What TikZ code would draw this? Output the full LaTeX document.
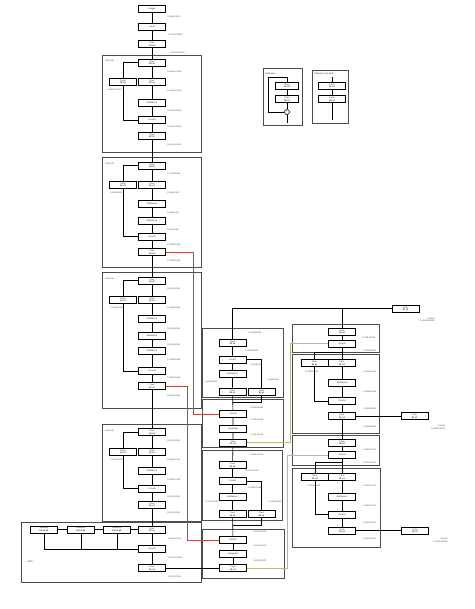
\documentclass[tikz,border=0pt]{standalone}
\usepackage{fontspec}
\setmainfont{Liberation Sans}
\usepackage{tikz}
\usetikzlibrary{calc}
\definecolor{skipred}{RGB}{170,75,65}
\definecolor{latolive}{RGB}{185,185,135}
\def\tinyfont{\fontsize{2.2}{2.5}\selectfont}
\def\netnode{\node[netbox]}
\def\dimlbl{\node[dimlbl]}
\def\drawframe{\draw[blockframe]}
\def\drawred{\draw[color=skipred, line width=0.6pt]}
\def\drawolive{\draw[color=latolive, line width=0.6pt]}
\def\op#1#2{#1\\\textbf{#2}}

\begin{document}
\begin{tikzpicture}[x=1pt,y=-1pt,
  netbox/.style={draw=black, fill=white, line width=0.8pt, minimum width=27pt, minimum height=7pt, inner sep=0pt, align=center, font=\tinyfont, text=black!85},
  blockframe/.style={draw=black!70, line width=0.7pt},
  dimlbl/.style={font=\tinyfont, text=black!65, anchor=west, inner sep=0pt, align=left},
  blocktitle/.style={font=\tinyfont, text=black!80, anchor=west, inner sep=0pt},
  every path/.style={line width=0.6pt}]
\useasboundingbox[fill=white] (0,0) rectangle (474,609);

% Stem
\netnode (in) at (152,8.5) {images};
\netnode (stem_a) at (152,26.5) {Focus};
\netnode (stem_b) at (152,44) {\op{Conv}{k3 s1}};
\dimlbl at (167,17) {1x3x640x640};
\dimlbl at (168,35) {1x12x320x320};
\dimlbl at (170,53) {1x32x320x320};

% Backbone block 1
\drawframe (102,55) rectangle (201,152);
\node[blocktitle] (c1_title) at (105,61) {C3 (n=1)};
\netnode (c1_top) at (152,62.5) {\op{Conv}{k3 s2}};
\netnode (c1_l) at (123,81.5) {\op{Conv}{k1 s1}};
\netnode (c1_r) at (152,81.5) {\op{Conv}{k1 s1}};
\netnode (c1_m1) at (152,102.5) {Bottleneck};
\netnode (c1_cat) at (152,120) {Concat};
\netnode (c1_out) at (152,135.5) {\op{Conv}{k1 s1}};
\draw (c1_top.west) -| (c1_l);
\draw (c1_l) |- (c1_cat.west);
\dimlbl at (167,72) {1x64x160x160};
\dimlbl at (107,90) {1x32x160x160};
\dimlbl at (167,91) {1x32x160x160};
\dimlbl at (167,111) {1x32x160x160};
\dimlbl at (167,127) {1x64x160x160};
\dimlbl at (167,145) {1x64x160x160};

% Backbone block 2
\drawframe (102,157) rectangle (201,267);
\node[blocktitle] (c2_title) at (105,164) {C3 (n=2)};
\netnode (c2_top) at (152,165.5) {\op{Conv}{k3 s2}};
\netnode (c2_l) at (123,184.5) {\op{Conv}{k1 s1}};
\netnode (c2_r) at (152,184.5) {\op{Conv}{k1 s1}};
\netnode (c2_m1) at (152,204) {Bottleneck};
\netnode (c2_m2) at (152,221) {Bottleneck};
\netnode (c2_cat) at (152,236.5) {Concat};
\netnode (c2_out) at (152,252) {\op{Conv}{k1 s1}};
\draw (c2_top.west) -| (c2_l);
\draw (c2_l) |- (c2_cat.west);
\dimlbl at (167,174) {1x128x80x80};
\dimlbl at (110,193) {1x64x80x80};
\dimlbl at (167,193) {1x64x80x80};
\dimlbl at (167,213) {1x64x80x80};
\dimlbl at (167,230) {1x64x80x80};
\dimlbl at (167,245) {1x128x80x80};
\dimlbl at (167,261) {1x128x80x80};

% Backbone block 3
\drawframe (102,272) rectangle (201,408);
\node[blocktitle] (c3_title) at (105,279) {C3 (n=3)};
\netnode (c3_top) at (152,280.5) {\op{Conv}{k3 s2}};
\netnode (c3_l) at (123,299.5) {\op{Conv}{k1 s1}};
\netnode (c3_r) at (152,299.5) {\op{Conv}{k1 s1}};
\netnode (c3_m1) at (152,319) {Bottleneck};
\netnode (c3_m2) at (152,336) {Bottleneck};
\netnode (c3_m3) at (152,351) {Bottleneck};
\netnode (c3_cat) at (152,371) {Concat};
\netnode (c3_out) at (152,386) {\op{Conv}{k1 s1}};
\draw (c3_top.west) -| (c3_l);
\draw (c3_l) |- (c3_cat.west);
\dimlbl at (167,289) {1x256x40x40};
\dimlbl at (110,308) {1x128x40x40};
\dimlbl at (167,308) {1x128x40x40};
\dimlbl at (167,329) {1x128x40x40};
\dimlbl at (167,345) {1x128x40x40};
\dimlbl at (167,360) {1x128x40x40};
\dimlbl at (167,378) {1x256x40x40};
\dimlbl at (167,396) {1x256x40x40};

% Backbone block 4
\drawframe (102,424) rectangle (201,521);
\node[blocktitle] (c4_title) at (105,431) {C3 (n=1)};
\netnode (c4_top) at (152,432) {\op{Conv}{k3 s2}};
\netnode (c4_l) at (123,451.5) {\op{Conv}{k1 s1}};
\netnode (c4_r) at (152,451.5) {\op{Conv}{k1 s1}};
\netnode (c4_m1) at (152,471) {Bottleneck};
\netnode (c4_cat) at (152,488.5) {Concat};
\netnode (c4_out) at (152,504.5) {\op{Conv}{k1 s1}};
\draw (c4_top.west) -| (c4_l);
\draw (c4_l) |- (c4_cat.west);
\dimlbl at (167,441) {1x512x20x20};
\dimlbl at (110,460) {1x256x20x20};
\dimlbl at (167,460) {1x256x20x20};
\dimlbl at (167,480) {1x256x20x20};
\dimlbl at (167,497) {1x512x20x20};
\dimlbl at (167,513) {1x512x20x20};

% SPPF
\drawframe (21,522) rectangle (201,582);
\node[blocktitle] (s_title) at (27,562) {SPPF};
\netnode (s_conv1) at (152,529.5) {\op{Conv}{k1 s1}};
\netnode (s_pool3) at (117,529.5) {\op{MaxPool}{k5 s1 p2}};
\netnode (s_pool2) at (81,529.5) {\op{MaxPool}{k5 s1 p2}};
\netnode (s_pool1) at (44,529.5) {\op{MaxPool}{k5 s1 p2}};
\netnode (s_cat) at (152,549) {Concat};
\netnode (s_out) at (152,568) {\op{Conv}{k1 s1}};
\draw (s_conv1) -- (s_pool3) -- (s_pool2) -- (s_pool1);
\draw (s_pool1) |- (s_cat.west);
\draw (s_pool2) -- (s_pool2 |- s_cat);
\draw (s_pool3) -- (s_pool3 |- s_cat);
\dimlbl at (168,539) {1x256x20x20};
\dimlbl at (168,558) {1x1024x20x20};
\dimlbl at (168,577) {1x512x20x20};

% main backbone spine
\draw (in) -- (stem_a) -- (stem_b) -- (c1_top) -- (c1_r) -- (c1_m1) -- (c1_cat) -- (c1_out)
  -- (c2_top) -- (c2_r) -- (c2_m1) -- (c2_m2) -- (c2_cat) -- (c2_out)
  -- (c3_top) -- (c3_r) -- (c3_m1) -- (c3_m2) -- (c3_m3) -- (c3_cat) -- (c3_out)
  -- (c4_top) -- (c4_r) -- (c4_m1) -- (c4_cat) -- (c4_out)
  -- (s_conv1) -- (s_cat) -- (s_out);

% Bottleneck legends
\drawframe (263,68) rectangle (302,125);
\node[blocktitle] (bt_title) at (265,74) {Bottleneck};
\netnode[minimum width=23pt] (bt_a) at (287,85.5) {\op{Conv}{k1 s1}};
\netnode[minimum width=23pt] (bt_b) at (287,99) {\op{Conv}{k3 s1}};
\node[draw, circle, fill=white, minimum size=5pt, inner sep=0pt, font=\tinyfont] (bt_add) at (287,112) {+};
\coordinate (bt_in) at (287,77);
\coordinate (bt_end) at (287,123);
\draw (bt_in) -- (bt_a) -- (bt_b) -- (bt_add) -- (bt_end);
\draw (bt_in) -- ++(-19,0) |- (bt_add.west);

\drawframe (312,70) rectangle (348,123);
\node[blocktitle] (bf_title) at (314,74) {Bottleneck (no add)};
\netnode (bf_a) at (332,85.5) {\op{Conv}{k1 s1}};
\netnode (bf_b) at (332,99) {\op{Conv}{k3 s1}};
\coordinate (bf_in) at (332,77);
\coordinate (bf_end) at (332,120);
\draw (bf_in) -- (bf_a) -- (bf_b) -- (bf_end);

% Head, upsampling path (drawn bottom to top)
\drawframe (202,529) rectangle (284,578);
\netnode (d_cat) at (233,540) {Concat};
\netnode (d_up) at (233,554) {Upsample};
\netnode (d_conv) at (233,568) {\op{Conv}{k1 s1}};
\draw (d_cat) -- (d_up) -- (d_conv);
\draw (s_out.east) -- (d_conv.west);
\dimlbl at (253,532) {1x512x40x40};
\dimlbl at (253,546) {1x256x40x40};
\dimlbl at (253,561) {1x256x20x20};

\drawframe (202,450) rectangle (282,520);
\netnode (cc_top) at (232.5,465) {\op{Conv}{k1 s1}};
\netnode (cc_cat) at (232.5,481) {Concat};
\netnode (cc_m) at (232.5,496.5) {Bottleneck};
\netnode (cc_l) at (232.5,514) {\op{Conv}{k1 s1}};
\netnode (cc_r) at (261.5,514) {\op{Conv}{k1 s1}};
\coordinate (cc_join) at (232.5,525);
\draw (cc_top) -- (cc_cat) -- (cc_m) -- (cc_l) -- (d_cat);
\draw (cc_cat.east) -| (cc_r);
\draw (cc_r) |- (cc_join);
\dimlbl at (250,455) {1x256x40x40};
\dimlbl at (245,471) {1x256x40x40};
\dimlbl at (248,488) {1x128x40x40};
\dimlbl at (205,502) {1x128x40x40};
\dimlbl at (268,502) {1x128x40x40};

\drawframe (202,399) rectangle (283,447);
\netnode (b_cat) at (233,414) {Concat};
\netnode (b_up) at (233,429) {Upsample};
\netnode (b_conv) at (233,442.5) {\op{Conv}{k1 s1}};
\draw (b_cat) -- (b_up) -- (b_conv) -- (cc_top);
\dimlbl at (250,408) {1x256x80x80};
\dimlbl at (250,420) {1x128x80x80};
\dimlbl at (250,435) {1x128x40x40};

\drawframe (202,328) rectangle (283,397);
\netnode (a_top) at (232.5,342.5) {\op{Conv}{k1 s1}};
\netnode (a_cat) at (232.5,359.5) {Concat};
\netnode (a_m) at (232.5,374) {Bottleneck};
\netnode (a_l) at (232.5,391.5) {\op{Conv}{k1 s1}};
\netnode (a_r) at (261.5,391.5) {\op{Conv}{k1 s1}};
\coordinate (a_join) at (232.5,402);
\draw (a_top) -- (a_cat) -- (a_m) -- (a_l) -- (b_cat);
\draw (a_cat.east) -| (a_r);
\draw (a_r) |- (a_join);
\dimlbl at (248,333) {1x128x80x80};
\dimlbl at (245,351) {1x128x80x80};
\dimlbl at (250,365) {1x64x80x80};
\dimlbl at (205,382) {1x64x80x80};
\dimlbl at (267,380) {1x64x80x80};

% skip connections from the backbone
\drawred (c2_out.east) -- ++(27.5,0) |- (b_cat.west);
\drawred (c3_out.east) -- ++(21,0) |- (d_cat.west);

% Head, downsampling path
\netnode (out1) at (405.5,308.5) {\op{Conv}{k1 s1}};
\coordinate (p3_split) at (342,308.5);
\draw (a_top.north) |- (out1.west);
\node[dimlbl] (out1_lbl) at (420,319.5) {\hspace*{7pt}output0\\1x3x80x80x85};

\drawframe (292,324) rectangle (379,352);
\netnode (e_conv) at (342,331.5) {\op{Conv}{k3 s2}};
\netnode (e_cat) at (342,343.5) {Concat};
\coordinate (e_split) at (342,352.5);
\draw (p3_split) -- (e_conv) -- (e_cat);
\dimlbl at (362,338) {1x128x40x40};
\dimlbl at (363,351) {1x256x40x40};

\drawframe (292,354) rectangle (379,433);
\netnode (f_l) at (314.5,363) {\op{Conv}{k1 s1}};
\netnode (f_r) at (342,363) {\op{Conv}{k1 s1}};
\netnode (f_m) at (342,383) {Bottleneck};
\netnode (f_cat) at (342,401) {Concat};
\netnode (f_out) at (342,416) {\op{Conv}{k1 s1}};
\netnode (out2) at (414.5,416) {\op{Conv}{k1 s1}};
\draw (e_cat) -- (f_r) -- (f_m) -- (f_cat) -- (f_out);
\draw (e_split) -| (f_l);
\draw (f_l) |- (f_cat.west);
\draw (f_out) -- (out2);
\dimlbl at (305,372) {1x128x40x40};
\dimlbl at (363,372) {1x128x40x40};
\dimlbl at (363,392) {1x128x40x40};
\dimlbl at (363,409) {1x256x40x40};
\dimlbl at (363,427) {1x256x40x40};
\node[dimlbl] (out2_lbl) at (431,427.5) {\hspace*{7pt}output1\\1x3x40x40x85};

\drawframe (292,435) rectangle (379,465);
\netnode (g_conv) at (342,442.5) {\op{Conv}{k3 s2}};
\netnode (g_cat) at (342,455) {Concat};
\coordinate (g_split) at (342,462);
\draw (f_out) -- (g_conv) -- (g_cat);
\dimlbl at (363,450) {1x256x20x20};
\dimlbl at (363,463) {1x512x20x20};

\drawframe (292,468) rectangle (380,547);
\netnode (h_l) at (315,477) {\op{Conv}{k1 s1}};
\netnode (h_r) at (342,477) {\op{Conv}{k1 s1}};
\netnode (h_m) at (342,496.5) {Bottleneck};
\netnode (h_cat) at (342,514.5) {Concat};
\netnode (h_out) at (342,530.5) {\op{Conv}{k1 s1}};
\netnode (out3) at (415,530.5) {\op{Conv}{k1 s1}};
\draw (g_cat) -- (h_r) -- (h_m) -- (h_cat) -- (h_out);
\draw (g_split) -| (h_l);
\draw (h_l) |- (h_cat.west);
\draw (h_out) -- (out3);
\dimlbl at (307,486) {1x256x20x20};
\dimlbl at (363,486) {1x256x20x20};
\dimlbl at (363,506) {1x256x20x20};
\dimlbl at (363,523) {1x512x20x20};
\dimlbl at (363,539) {1x512x20x20};
\node[dimlbl] (out3_lbl) at (433,540) {\hspace*{7pt}output2\\1x3x20x20x85};

% lateral links inside the head
\drawolive (b_conv.east) -- ++(43.5,0) |- (e_cat.west);
\drawolive (d_conv.east) -- ++(40,0) |- (g_cat.west);
\end{tikzpicture}
\end{document}
